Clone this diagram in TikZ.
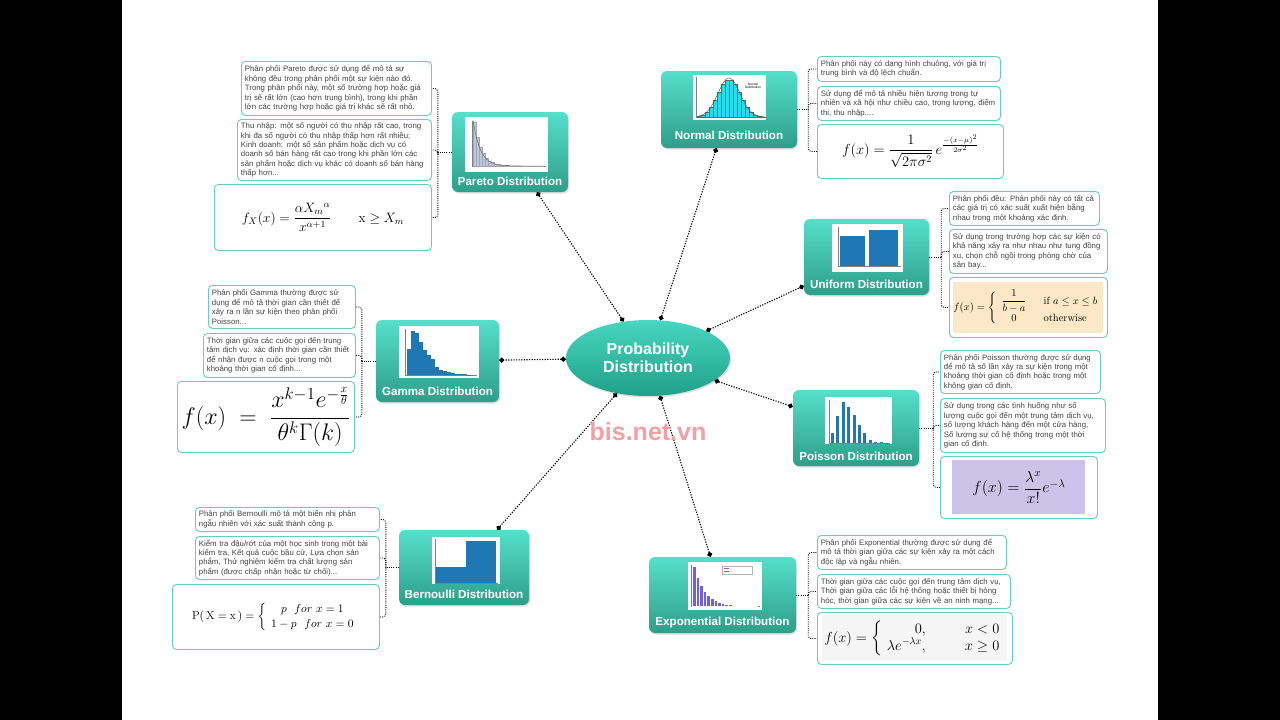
\RequirePackage{fix-cm}
\documentclass[tikz,border=0pt]{standalone}
\usepackage{amsmath}
\usepackage{amssymb}
\usepackage{fontspec}
\setsansfont{Liberation Sans}
\usetikzlibrary{shapes.geometric,arrows.meta,positioning,shadows}

\definecolor{noteline}{HTML}{62D0C1}
\definecolor{notetext}{HTML}{444444}
\definecolor{topictop}{HTML}{55DFCB}
\definecolor{topicbot}{HTML}{2E9E8A}
\definecolor{hubtop}{HTML}{48D6C0}
\definecolor{hubbot}{HTML}{1FA08A}
\definecolor{barblue}{HTML}{1F77B4}
\definecolor{paretobar}{HTML}{B8C8E0}
\definecolor{normalbar}{HTML}{22E0F0}
\definecolor{expbar}{HTML}{6F5FE8}
\definecolor{peach}{HTML}{FCE8C6}
\definecolor{lavender}{HTML}{CCC4E8}
\definecolor{wmred}{HTML}{F2A0A4}

\begin{document}
\begin{tikzpicture}[
    x=1pt, y=-1pt,
    note/.style={rectangle, draw=noteline, line width=0.9pt, rounded corners=4pt, fill=white, anchor=north west, align=left, inner xsep=3.5pt, inner ysep=2pt, text=notetext, font=\sffamily\fontsize{7.8}{9.4}\selectfont},
    formula/.style={note, align=center, text=black, font=\fontsize{12}{14}\selectfont},
    topic/.style={rectangle, rounded corners=6pt, top color=topictop, bottom color=topicbot, drop shadow={opacity=0.25, shadow xshift=1pt, shadow yshift=-1.5pt}},
    title/.style={text=white, inner sep=0pt, font=\sffamily\bfseries\fontsize{11.6}{13}\selectfont},
    hub/.style={ellipse, minimum width=164, minimum height=76, inner sep=0pt, top color=hubtop, bottom color=hubbot, text=white, align=center, font=\sffamily\bfseries\fontsize{16}{18}\selectfont, drop shadow={opacity=0.25, shadow xshift=1pt, shadow yshift=-1.5pt}},
    link/.style={{Circle[length=5pt]}-{Circle[length=5pt]}, dash pattern=on 1.2pt off 1.4pt, line width=1.1pt},
    branch/.style={dash pattern=on 1pt off 1.2pt, line width=0.9pt, rounded corners=3pt},
    axis/.style={gray, line width=0.2pt}
]
    % page
    \fill[black] (0,0) rectangle (1280,720);
    \fill[white] (122,0) rectangle (1158,720);

    \node[hub] (hub) at (648,358) {Probability\\Distribution};

    \node[topic, minimum width=116, minimum height=80] (pareto) at (510,152) {};
    \node[topic, minimum width=136, minimum height=77] (normal) at (729,109.5) {};
    \node[topic, minimum width=125, minimum height=76] (uniform) at (866.5,257) {};
    \node[topic, minimum width=123, minimum height=82] (gamma) at (437.5,361) {};
    \node[topic, minimum width=126, minimum height=76] (poisson) at (856,428) {};
    \node[topic, minimum width=130, minimum height=75] (bernoulli) at (464,567.5) {};
    \node[topic, minimum width=147, minimum height=76] (expo) at (722.5,595) {};

    % pareto plot
    \fill[white] (465,117) rectangle (548,172);
    \draw[axis] (472,121) -- (472,166) -- (546,166);
    \foreach \i in {0,...,22}{
        \pgfmathsetmacro\h{44*exp(-0.42*\i)}
        \draw[fill=paretobar, draw=gray!70, line width=0.15pt] ({473+3*\i},166) rectangle ++(3,-\h);
    }
    \draw[black!60, line width=0.4pt] plot[domain=0:23, samples=40, smooth] ({473+3*\x},{166-46*exp(-0.42*\x)});

    % normal plot
    \fill[white] (693,75) rectangle (766,120);
    \draw[axis] (696,77) -- (696,117) -- (764,117);
    \foreach \i in {0,...,16}{
        \pgfmathsetmacro\h{38*exp(-((4*\i-30)/11)^2/2)}
        \draw[fill=normalbar, draw=black!60, line width=0.2pt] ({697+4*\i},117) rectangle ++(4,-\h);
    }
    \draw[black!70, line width=0.4pt] plot[domain=697:765, samples=50, smooth] (\x,{117-39*exp(-((\x-729)/11)^2/2)});
    \node[inner sep=0pt, align=center, font=\sffamily\fontsize{3.2}{3.6}\selectfont] (normaltag) at (753,86) {Normal\\Distribution};

    % uniform plot
    \fill[white] (832,224) rectangle (903,272);
    \draw[axis] (838,227) -- (838,266) -- (901,266);
    \fill[barblue] (840,236) rectangle (865,266);
    \fill[barblue] (869,230) rectangle (898,266);

    % gamma plot
    \fill[white] (399,326) rectangle (479,378);
    \draw[axis] (405,329) -- (405,375) -- (477,375);
    \foreach \v [count=\i from 0] in {0.6,1.0,0.96,0.74,0.56,0.46,0.36,0.18,0.12,0.09,0.06,0.04,0.03,0.02,0.015,0.01}
        \fill[barblue] ({407+4*\i},375) rectangle ++(4,{-44*\v});

    % poisson plot
    \fill[white] (825,397) rectangle (892,444);
    \draw[axis] (829,400) -- (829,443) -- (890,443);
    \foreach \v [count=\i from 0] in {0.18,0.48,0.73,0.64,0.5,0.33,0.17,0.06,0.02,0.01,0.005}
        \fill[barblue] ({831+5.4*\i},443) rectangle ++(3,{-56*\v});

    % bernoulli plot
    \fill[white] (432,537) rectangle (500,584);
    \draw[axis] (435,539) -- (435,583) -- (498,583);
    \fill[barblue] (436,567) rectangle (466,583);
    \fill[barblue] (466,541) rectangle (496,583);

    % exponential plot
    \fill[white] (688,562) rectangle (762,610);
    \draw[axis] (691,565) -- (691,606) -- (760,606);
    \foreach \i in {0,...,17}{
        \pgfmathsetmacro\h{40*exp(-0.32*\i)}
        \draw[fill=expbar, draw=white, line width=0.1pt] ({692+3.6*\i},606) rectangle ++(3.6,-\h);
    }
    \draw[gray!60, line width=0.2pt, fill=white] (722,566) rectangle (752,574);
    \draw[expbar, line width=0.5pt] (724,568.5) -- (729,568.5);
    \draw[red!70, line width=0.5pt] (724,571.5) -- (729,571.5);

    \node[title] (paretoL) at ([yshift=11pt]pareto.south) {Pareto Distribution};
    \node[title] (normalL) at ([yshift=13pt]normal.south) {Normal Distribution};
    \node[title] (uniformL) at ([yshift=11pt]uniform.south) {Uniform Distribution};
    \node[title] (gammaL) at ([yshift=11pt]gamma.south) {Gamma Distribution};
    \node[title] (poissonL) at ([yshift=10pt]poisson.south) {Poisson Distribution};
    \node[title] (bernoulliL) at ([yshift=11pt]bernoulli.south) {Bernoulli Distribution};
    \node[title] (expoL) at ([yshift=11pt]expo.south) {Exponential Distribution};

    \foreach \t in {pareto,normal,uniform,gamma,poisson,bernoulli,expo}
        \draw[link] (hub) -- (\t);

    % Pareto notes
    \node[note, text width=183, minimum height=54] (p1) at (241,61) {Phân phối Pareto được sử dụng để mô tả sự\\không đều trong phân phối một sự kiện nào đó.\\Trong phân phối này, một số trường hợp hoặc giá\\trị sẽ rất lớn (cao hơn trung bình), trong khi phần\\lớn các trường hợp hoặc giá trị khác sẽ rất nhỏ.};
    \node[note, text width=187, minimum height=61] (p2) at (237,119) {Thu nhập: một số người có thu nhập rất cao, trong\\khi đa số người có thu nhập thấp hơn rất nhiều;\\Kinh doanh: một số sản phẩm hoặc dịch vụ có\\doanh số bán hàng rất cao trong khi phần lớn các\\sản phẩm hoặc dịch vụ khác có doanh số bán hàng\\thấp hơn...};
    \node[formula, minimum width=217, minimum height=66, font=\fontsize{13.6}{15}\selectfont] (p3) at (214,184) {$f_X(x)=\dfrac{\alpha X_m{}^{\alpha}}{x^{\alpha+1}}\qquad \mathrm{x}\geq X_m$};

    % Normal notes
    \node[note, text width=176, minimum height=25] (n1) at (817,56) {Phân phối này có dạng hình chuông, với giá trị\\trung bình và độ lệch chuẩn.};
    \node[note, text width=176, minimum height=34] (n2) at (817,86) {Sử dụng để mô tả nhiều hiện tượng trong tự\\nhiên và xã hội như chiều cao, trọng lượng, điểm\\thi, thu nhập....};
    \node[formula, minimum width=186, minimum height=54, font=\fontsize{14.5}{16}\selectfont] (n3) at (817,124) {$f(x)=\dfrac{1}{\sqrt{2\pi\sigma^2}}\,e^{\frac{-(x-\mu)^2}{2\sigma^2}}$};

    % Uniform notes
    \node[note, text width=143, minimum height=34] (u1) at (949,191) {Phân phối đều: Phân phối này có tất cả\\các giá trị có xác suất xuất hiện bằng\\nhau trong một khoảng xác định.};
    \node[note, text width=151, minimum height=44] (u2) at (949,229) {Sử dụng trong trường hợp các sự kiện có\\khả năng xảy ra như nhau như tung đồng\\xu, chọn chỗ ngồi trong phòng chờ của\\sân bay...};
    \node[note, minimum width=158, minimum height=60] (u3) at (949,277) {};
    \node[fill=peach, minimum width=147, minimum height=51, inner sep=0pt, font=\fontsize{10.5}{12}\selectfont] (u3f) at (u3.center) {$f(x)=\left\{\begin{array}{cl}\dfrac{1}{b-a} & \ \ \text{if } a\leq x\leq b\\[5pt] 0 & \ \ \text{otherwise}\end{array}\right.$};

    % Gamma notes
    \node[note, text width=140, minimum height=43] (g1) at (208,285) {Phân phối Gamma thường được sử\\dụng để mô tả thời gian cần thiết để\\xảy ra n lần sự kiện theo phân phối\\Poisson...};
    \node[note, text width=145, minimum height=44] (g2) at (203,333) {Thời gian giữa các cuộc gọi đến trung\\tâm dịch vụ: xác định thời gian cần thiết\\để nhận được n cuộc gọi trong một\\khoảng thời gian cố định...};
    \node[formula, minimum width=177, minimum height=71, font=\fontsize{24}{26}\selectfont] (g3) at (177,381) {$f(x)\;=\;\dfrac{x^{k-1}e^{-\frac{x}{\theta}}}{\theta^k\Gamma(k)}$};

    % Poisson notes
    \node[note, text width=153, minimum height=43] (s1) at (940,350) {Phân phối Poisson thường được sử dụng\\để mô tả số lần xảy ra sự kiện trong một\\khoảng thời gian cố định hoặc trong một\\không gian cố định.};
    \node[note, text width=158, minimum height=54] (s2) at (940,398) {Sử dụng trong các tình huống như số\\lượng cuộc gọi đến một trung tâm dịch vụ,\\số lượng khách hàng đến một cửa hàng,\\Số lượng sự cố hệ thống trong một thời\\gian cố định.};
    \node[note, minimum width=157, minimum height=62] (s3) at (940,456) {};
    \node[fill=lavender, minimum width=133, minimum height=54, inner sep=0pt, font=\fontsize{16}{18}\selectfont] (s3f) at (s3.center) {$f(x)=\dfrac{\lambda^x}{x!}e^{-\lambda}$};

    % Bernoulli notes
    \node[note, text width=177, minimum height=24] (b1) at (195,507) {Phân phối Bernoulli mô tả một biến nhị phân\\ngẫu nhiên với xác suất thành công p.};
    \node[note, text width=177, minimum height=43] (b2) at (195,536) {Kiểm tra đậu/rớt của một học sinh trong một bài\\kiểm tra, Kết quả cuộc bầu cử, Lựa chọn sản\\phẩm, Thử nghiệm kiểm tra chất lượng sản\\phẩm (được chấp nhận hoặc từ chối)...};
    \node[formula, minimum width=207, minimum height=65, font=\fontsize{11.5}{13}\selectfont] (b3) at (172,584) {$\mathrm{P(\,X = x\,)} = \left\{\begin{array}{c} p\ \ for\ x=1\\[2pt] 1-p\ \ for\ x=0\end{array}\right.$};

    % Exponential notes
    \node[note, text width=182, minimum height=34] (e1) at (817,535) {Phân phối Exponential thường được sử dụng để\\mô tả thời gian giữa các sự kiện xảy ra một cách\\độc lập và ngẫu nhiên.};
    \node[note, text width=186, minimum height=34] (e2) at (817,574) {Thời gian giữa các cuộc gọi đến trung tâm dịch vụ,\\Thời gian giữa các lỗi hệ thống hoặc thiết bị hỏng\\hóc, thời gian giữa các sự kiện về an ninh mạng...};
    \node[note, minimum width=195, minimum height=52] (e3) at (817,612) {};
    \node[fill=black!4, minimum width=185, minimum height=46, inner sep=0pt, font=\fontsize{14.5}{16}\selectfont] (e3f) at (e3.center) {$f(x)=\left\{\begin{array}{rr}0, & \qquad x<0\\ \lambda e^{-\lambda x}, & \qquad x\geq 0\end{array}\right.$};

    % branches
    \draw[branch] (pareto.west) -- ++(-14,0) coordinate (pj);
    \foreach \b in {p1,p2,p3} \draw[branch] (pj) |- (\b.east);
    \draw[branch] (normal.east) -- ++(11,0) coordinate (nj);
    \foreach \b in {n1,n2,n3} \draw[branch] (nj) |- (\b.west);
    \draw[branch] (uniform.east) -- ++(12,0) coordinate (uj);
    \foreach \b in {u1,u2,u3} \draw[branch] (uj) |- (\b.west);
    \draw[branch] (gamma.west) -- ++(-14,0) coordinate (gj);
    \foreach \b in {g1,g2,g3} \draw[branch] (gj) |- (\b.east);
    \draw[branch] (poisson.east) -- ++(14,0) coordinate (sj);
    \foreach \b in {s1,s2,s3} \draw[branch] (sj) |- (\b.west);
    \draw[branch] (bernoulli.west) -- ++(-13,0) coordinate (bj);
    \foreach \b in {b1,b2,b3} \draw[branch] (bj) |- (\b.east);
    \draw[branch] (expo.east) -- ++(12,0) coordinate (ej);
    \foreach \b in {e1,e2,e3} \draw[branch] (ej) |- (\b.west);

    \node[text=wmred, font=\sffamily\bfseries\fontsize{25}{27}\selectfont] (wm) at (648,432) {bis.net.vn};
\end{tikzpicture}
\end{document}
